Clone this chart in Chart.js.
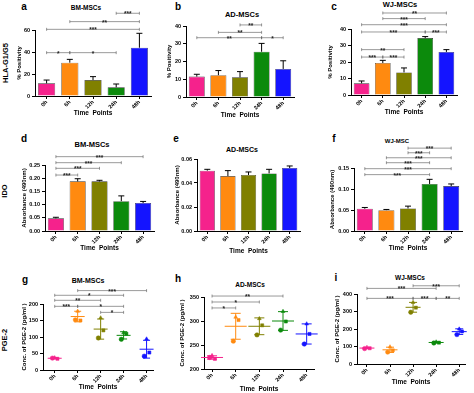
<!DOCTYPE html>
<html>
<head>
<meta charset="utf-8">
<script src="https://cdn.jsdelivr.net/npm/chart.js@4.4.1/dist/chart.umd.min.js"></script>
<style>
  body { margin: 0; background: #fff; width: 474px; height: 393px; position: relative; overflow: hidden;
         font-family: 'Liberation Sans', Arial, sans-serif; }
  canvas { position: absolute; }
  .t { position: absolute; transform: translate(-50%, -50%); white-space: nowrap; font-weight: bold; color: #000; line-height: 1; }
  .r { transform: translate(-50%, -50%) rotate(-90deg); }
</style>
</head>
<body>
<!-- panel letters -->
<div class="t" style="left:24px;top:7px;font-size:10px">a</div>
<div class="t" style="left:178px;top:7px;font-size:10px">b</div>
<div class="t" style="left:334px;top:7px;font-size:10px">c</div>
<div class="t" style="left:24px;top:139px;font-size:10px">d</div>
<div class="t" style="left:176px;top:139px;font-size:10px">e</div>
<div class="t" style="left:334px;top:139px;font-size:10px">f</div>
<div class="t" style="left:25px;top:280px;font-size:10px">g</div>
<div class="t" style="left:178px;top:279px;font-size:10px">h</div>
<div class="t" style="left:336px;top:278px;font-size:10px">i</div>
<!-- panel titles -->
<div class="t" style="left:86px;top:8px;font-size:6.5px">BM-MSCs</div>
<div class="t" style="left:242px;top:15px;font-size:7.5px">AD-MSCs</div>
<div class="t" style="left:400px;top:5px;font-size:7.5px">WJ-MSCs</div>
<div class="t" style="left:92px;top:145px;font-size:7.5px">BM-MSCs</div>
<div class="t" style="left:242px;top:149px;font-size:7px">AD-MSCs</div>
<div class="t" style="left:397px;top:141px;font-size:6px">WJ-MSC</div>
<div class="t" style="left:88px;top:280px;font-size:7px">BM-MSCs</div>
<div class="t" style="left:250px;top:285px;font-size:6.5px">AD-MSCs</div>
<div class="t" style="left:410px;top:278px;font-size:6.5px">WJ-MSCs</div>
<!-- row labels -->
<div class="t r" style="left:6px;top:63px;font-size:7.5px">HLA-G1/G5</div>
<div class="t r" style="left:5px;top:191px;font-size:7.5px">IDO</div>
<div class="t r" style="left:5px;top:340px;font-size:7.5px">PGE-2</div>

<canvas id="pa"></canvas><canvas id="pb"></canvas><canvas id="pc"></canvas>
<canvas id="pd"></canvas><canvas id="pe"></canvas><canvas id="pf"></canvas>
<canvas id="pg"></canvas><canvas id="ph"></canvas><canvas id="pi"></canvas>

<script>
// ---------- data ----------
const timePoints = ['0h', '6h', '12h', '24h', '48h'];

// a: HLA-G1/G5, BM-MSCs (% positivity, mean + SEM)
const hlaBmMean  = [11.5, 30.3, 14.5, 7.9, 43.9];
const hlaBmSem   = [3.0, 3.0, 3.1, 3.0, 13.1];
const hlaBmTicks = [0, 20, 40, 60];
const hlaBmSig   = [[0, 1, 39.4, '*'], [1, 3, 39.4, '*'], [0, 4, 60.6, '***'], [1, 4, 67.6, '**'], [3, 4, 75.2, '***']];

// b: HLA-G1/G5, AD-MSCs
const hlaAdMean  = [11.5, 12.3, 11.1, 25.5, 15.8];
const hlaAdSem   = [1.3, 2.6, 3.2, 4.7, 4.6];
const hlaAdTicks = [0, 10, 20, 30, 40];
const hlaAdSig   = [[2, 3, 40.6, '**'], [1, 3, 36.4, '**'], [0, 3, 33.4, '**'], [3, 4, 33.4, '*']];

// c: HLA-G1/G5, WJ-MSCs
const hlaWjMean  = [7.1, 19.4, 13.7, 34.5, 26.1];
const hlaWjSem   = [1.4, 1.6, 2.7, 0.9, 1.4];
const hlaWjTicks = [0, 10, 20, 30, 40];
const hlaWjSig   = [[1, 4, 49.7, '**'], [1, 3, 46.3, '***'], [0, 4, 42.6, '***'], [0, 3, 38.2, '***'], [3, 4, 38.2, '***'],
                    [0, 2, 27.5, '**'], [0, 1, 23, '***'], [1, 2, 23, '***']];

// d: IDO, BM-MSCs (absorbance 490 nm)
const idoBmMean  = [0.048, 0.188, 0.188, 0.113, 0.106];
const idoBmSem   = [0.004, 0.010, 0.004, 0.020, 0.006];
const idoBmTicks = [0, 0.05, 0.10, 0.15, 0.20, 0.25];
const idoBmSig   = [[0, 4, 0.2816, '***'], [0, 3, 0.2588, '***'], [0, 2, 0.2374, '***'], [0, 1, 0.212, '***']];

// e: IDO, AD-MSCs
const idoAdMean  = [0.0503, 0.0458, 0.0467, 0.0480, 0.0525];
const idoAdSem   = [0.0011, 0.0045, 0.0025, 0.0034, 0.0017];
const idoAdTicks = [0, 0.02, 0.04, 0.06];

// f: IDO, WJ-MSC
const idoWjMean  = [0.053, 0.0497, 0.0537, 0.112, 0.107];
const idoWjSem   = [0.003, 0.0016, 0.0055, 0.011, 0.005];
const idoWjTicks = [0, 0.05, 0.10, 0.15];
const idoWjSig   = [[2, 4, 0.1973, '***'], [2, 3, 0.1863, '***'], [1, 4, 0.1744, '***'], [1, 3, 0.1626, '***'],
                    [0, 4, 0.1484, '***'], [0, 3, 0.1342, '***']];

// g: PGE-2, BM-MSCs (pg/ml, individual replicates, mean and SD)
const pgeBmPts   = [[37, 34, 36], [178, 150, 152], [158, 120, 97], [113, 110, 93], [94, 53, 42]];
const pgeBmMean  = [35.6, 162, 124, 105, 63];
const pgeBmSd    = [2, 16, 30.5, 11, 27];
const pgeBmTicks = [0, 50, 100, 150, 200];
const pgeBmSig   = [[1, 4, 240.6, '***'], [0, 3, 226.4, '*'], [0, 2, 211.2, '**'], [0, 1, 192.9, '***'],
                    [1, 3, 192.9, '*'], [2, 3, 174.6, '*']];

// h: PGE-2, AD-MSCs
const pgeAdPts   = [[228, 221, 224], [308, 302, 258], [305, 291, 271], [320, 299, 281], [294, 273, 252]];
const pgeAdMean  = [224, 289, 289, 300, 273];
const pgeAdSd    = [3.5, 27, 17.5, 19.5, 21];
const pgeAdTicks = [200, 250, 300, 350];
const pgeAdSig   = [[0, 3, 352, '**'], [0, 2, 339.6, '*'], [0, 1, 327.2, '*']];

// i: PGE-2, WJ-MSCs
const pgeWjPts   = [[95, 90, 88], [98, 78, 68], [352, 322, 296], [126, 122, 120], [200, 186, 168]];
const pgeWjMean  = [91, 81, 324, 123, 185];
const pgeWjSd    = [3.5, 15, 28, 3, 16];
const pgeWjTicks = [0, 100, 200, 300, 400];
const pgeWjSig   = [[2, 4, 447, '***'], [0, 3, 432, '***'], [0, 2, 375, '***'], [2, 3, 375, '***'], [3, 4, 375, '**']];

// ---------- styling ----------
const groupColors  = ['#f5228c', '#ff8a10', '#808000', '#0c8a0c', '#1414ff'];
const markerShapes = ['triangle', 'rect', 'circle'];
const jitter       = [0, 0.12, -0.1];
const FONT = "'Liberation Sans', Arial, sans-serif";
const Y_TITLE = 6, X_TITLE = 6.5;

// place a canvas so that its chart area lands on the given plot box
function place(id, geo) {
  const cv = document.getElementById(id);
  const left = Math.round(geo.yTitleX - Y_TITLE * 0.6);
  const bottom = Math.round(geo.xTitleY + X_TITLE * 0.6);
  const w = geo.right - left, h = bottom - geo.top;
  cv.width = w; cv.height = h;
  cv.style.left = left + 'px'; cv.style.top = geo.top + 'px';
  cv.style.width = w + 'px'; cv.style.height = h + 'px';
  return {
    cv,
    yW: geo.plot[0] - left,
    xH: bottom - geo.plot[3],
    padTop: geo.plot[1] - geo.top,
    padRight: geo.right - geo.plot[2]
  };
}

function axisBase(title, size) {
  return {
    grid: { drawOnChartArea: false, color: '#000', tickLength: 3, lineWidth: 1 },
    border: { color: '#000', width: 1 },
    ticks: { color: '#000', font: { family: FONT, size: 5.5, weight: 'bold' } },
    title: { display: true, text: title, color: '#000', padding: 0, font: { family: FONT, size: size, weight: 'bold' } }
  };
}

function sigPlugin(sig) {
  return {
    id: 'sig',
    afterDraw(chart) {
      const { ctx, scales: { x, y } } = chart;
      ctx.save();
      ctx.strokeStyle = '#555';
      ctx.lineWidth = 0.6;
      ctx.fillStyle = '#222';
      ctx.font = 'bold 6.5px ' + FONT;
      ctx.textAlign = 'center';
      ctx.textBaseline = 'alphabetic';
      sig.forEach(([a, b, v, txt]) => {
        const x1 = x.getPixelForValue(a), x2 = x.getPixelForValue(b), yy = y.getPixelForValue(v);
        ctx.beginPath();
        ctx.moveTo(x1, yy); ctx.lineTo(x2, yy);
        ctx.moveTo(x1, yy - 1.5); ctx.lineTo(x1, yy + 1.5);
        ctx.moveTo(x2, yy - 1.5); ctx.lineTo(x2, yy + 1.5);
        ctx.stroke();
        ctx.fillText(txt, (x1 + x2) / 2, yy + 3);
      });
      ctx.restore();
    }
  };
}

function errPlugin(mean, sem) {
  return {
    id: 'err',
    afterDatasetsDraw(chart) {
      const { ctx, scales: { y } } = chart;
      const meta = chart.getDatasetMeta(0);
      ctx.save();
      ctx.strokeStyle = '#000';
      ctx.lineWidth = 1;
      meta.data.forEach((bar, i) => {
        const top = y.getPixelForValue(mean[i] + sem[i]);
        ctx.beginPath();
        ctx.moveTo(bar.x, bar.y); ctx.lineTo(bar.x, top);
        ctx.moveTo(bar.x - 3, top); ctx.lineTo(bar.x + 3, top);
        ctx.stroke();
      });
      ctx.restore();
    }
  };
}

function meanSdPlugin(mean, sd, half, cap) {
  return {
    id: 'meanSd',
    beforeDatasetsDraw(chart) {
      const { ctx, scales: { x, y } } = chart;
      ctx.save();
      ctx.lineWidth = 1;
      mean.forEach((m, i) => {
        const cx = x.getPixelForValue(i);
        const ym = y.getPixelForValue(m), yh = y.getPixelForValue(m + sd[i]), yl = y.getPixelForValue(m - sd[i]);
        ctx.strokeStyle = groupColors[i];
        ctx.beginPath();
        ctx.moveTo(cx - half, ym); ctx.lineTo(cx + half, ym);
        ctx.moveTo(cx, yh); ctx.lineTo(cx, yl);
        ctx.moveTo(cx - cap, yh); ctx.lineTo(cx + cap, yh);
        ctx.moveTo(cx - cap, yl); ctx.lineTo(cx + cap, yl);
        ctx.stroke();
      });
      ctx.restore();
    }
  };
}

function yAxis(box, ticks, title, fmt) {
  const ax = axisBase(title, Y_TITLE);
  ax.min = ticks[0];
  ax.max = ticks[ticks.length - 1];
  ax.afterBuildTicks = s => { s.ticks = ticks.map(v => ({ value: v })); };
  ax.afterFit = s => { s.width = box.yW; };
  ax.ticks.padding = 2;
  ax.ticks.callback = fmt;
  return ax;
}

function barPanel(id, geo, mean, sem, ticks, sig, yTitle, fmt) {
  const box = place(id, geo);
  const xAx = axisBase('Time  Points', X_TITLE);
  xAx.grid.offset = false;
  xAx.ticks.minRotation = 45;
  xAx.ticks.maxRotation = 45;
  xAx.ticks.padding = 0;
  xAx.ticks.autoSkip = false;
  xAx.afterFit = s => { s.height = box.xH; };
  new Chart(box.cv, {
    type: 'bar',
    data: {
      labels: timePoints,
      datasets: [{
        data: mean,
        backgroundColor: groupColors,
        borderColor: '#333',
        borderWidth: 0.6,
        categoryPercentage: 1,
        barPercentage: 0.74
      }]
    },
    options: {
      responsive: false,
      animation: false,
      layout: { padding: { left: 0, top: box.padTop, right: box.padRight, bottom: 0 } },
      plugins: { legend: { display: false }, tooltip: { enabled: false } },
      scales: { x: xAx, y: yAxis(box, ticks, yTitle, fmt) }
    },
    plugins: [errPlugin(mean, sem), sigPlugin(sig)]
  });
}

function dotPanel(id, geo, pts, mean, sd, ticks, sig, xMin, xMax, half, cap) {
  const box = place(id, geo);
  const xAx = axisBase('Time  Points', X_TITLE);
  xAx.type = 'linear';
  xAx.min = xMin;
  xAx.max = xMax;
  xAx.afterBuildTicks = s => { s.ticks = timePoints.map((_, i) => ({ value: i })); };
  xAx.ticks.callback = (v, i) => timePoints[i];
  xAx.ticks.minRotation = 45;
  xAx.ticks.maxRotation = 45;
  xAx.ticks.padding = 0;
  xAx.ticks.autoSkip = false;
  xAx.afterFit = s => { s.height = box.xH; };
  new Chart(box.cv, {
    type: 'scatter',
    data: {
      datasets: pts.map((grp, i) => ({
        data: grp.map((v, k) => ({ x: i + jitter[k], y: v })),
        pointStyle: markerShapes,
        pointRadius: 2.2,
        backgroundColor: groupColors[i],
        borderColor: groupColors[i],
        borderWidth: 0.5,
        clip: false
      }))
    },
    options: {
      responsive: false,
      animation: false,
      layout: { padding: { left: 0, top: box.padTop, right: box.padRight, bottom: 0 } },
      plugins: { legend: { display: false }, tooltip: { enabled: false } },
      scales: { x: xAx, y: yAxis(box, ticks, 'Conc. of PGE-2 (pg/ml )', v => v) }
    },
    plugins: [meanSdPlugin(mean, sd, half, cap), sigPlugin(sig)]
  });
}

const pct = v => v;
const abs2 = v => v.toFixed(2);

barPanel('pa', { plot: [35, 30, 151, 96], yTitleX: 20, xTitleY: 113, top: 0, right: 155 },
  hlaBmMean, hlaBmSem, hlaBmTicks, hlaBmSig, '% Positivity', pct);
barPanel('pb', { plot: [186, 26, 294, 97], yTitleX: 170, xTitleY: 115, top: 0, right: 310 },
  hlaAdMean, hlaAdSem, hlaAdTicks, hlaAdSig, '% Positivity', pct);
barPanel('pc', { plot: [351, 29, 457, 95], yTitleX: 331, xTitleY: 112, top: 0, right: 472 },
  hlaWjMean, hlaWjSem, hlaWjTicks, hlaWjSig, '% Positivity', pct);

barPanel('pd', { plot: [45, 165, 154, 231], yTitleX: 25, xTitleY: 248, top: 130, right: 158 },
  idoBmMean, idoBmSem, idoBmTicks, idoBmSig, 'Absorbance (490nm)', abs2);
barPanel('pe', { plot: [197, 159, 300, 231], yTitleX: 178, xTitleY: 251, top: 130, right: 310 },
  idoAdMean, idoAdSem, idoAdTicks, [], 'Absorbance (490nm)', abs2);
barPanel('pf', { plot: [354, 168, 462, 231], yTitleX: 333, xTitleY: 248, top: 130, right: 472 },
  idoWjMean, idoWjSem, idoWjTicks, idoWjSig, 'Absorbance (490nm)', abs2);

dotPanel('pg', { plot: [43, 304, 153, 370], yTitleX: 25, xTitleY: 387, top: 270, right: 158 },
  pgeBmPts, pgeBmMean, pgeBmSd, pgeBmTicks, pgeBmSig, -0.51, 4.28, 7, 3.5);
dotPanel('ph', { plot: [204, 297, 314, 369], yTitleX: 183, xTitleY: 389, top: 270, right: 320 },
  pgeAdPts, pgeAdMean, pgeAdSd, pgeAdTicks, pgeAdSig, -0.34, 4.31, 11, 5);
dotPanel('pi', { plot: [357, 294, 465, 364], yTitleX: 338, xTitleY: 382, top: 270, right: 472 },
  pgeWjPts, pgeWjMean, pgeWjSd, pgeWjTicks, pgeWjSig, -0.43, 4.25, 7.5, 4);
</script>
</body>
</html>
